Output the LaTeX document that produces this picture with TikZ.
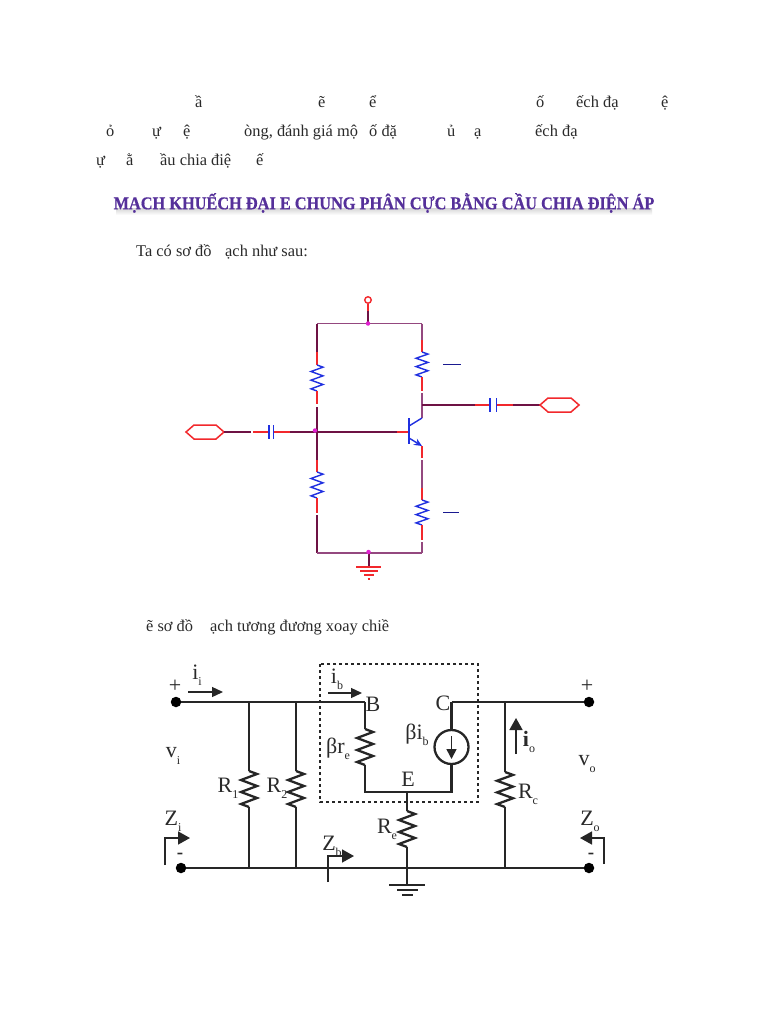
\documentclass[tikz,border=0pt]{standalone}
\usepackage{fontspec}
\setmainfont{Liberation Serif}
\newfontfamily\titlefont[FakeBold=0.6]{Liberation Serif Bold}
\usetikzlibrary{arrows.meta,shapes.geometric}
\definecolor{maroon}{HTML}{6E1244}
\definecolor{plum}{HTML}{94487F}
\definecolor{wred}{HTML}{F2282C}
\definecolor{wblue}{HTML}{2030E0}
\definecolor{navyd}{HTML}{1A1A90}
\definecolor{titlec}{HTML}{55309A}
\definecolor{mag}{HTML}{E020D0}
\definecolor{ink}{HTML}{2A2A2A}
\newcommand\sbs[1]{\raisebox{-0.28em}{\fontsize{12}{12}\selectfont #1}}
\tikzset{
 x=1pt,y=-1pt,
 body/.style={anchor=base west,inner sep=0pt,text=ink,font=\fontsize{16.4}{18}\selectfont},
 lab/.style={inner sep=0pt,text=ink,font=\fontsize{22}{24}\selectfont},
 dk/.style={draw=maroon,line width=2pt},
 pl/.style={draw=plum,line width=1.6pt},
 rd/.style={draw=wred,line width=1.5pt},
 bl/.style={draw=wblue,line width=1.4pt},
 wire/.style={draw=black!85,line width=1.6pt},
 thickwire/.style={draw=black!85,line width=2.3pt},
 zz/.style={draw=black!85,line width=2.3pt,line join=miter},
 dot/.style={circle,fill=black,inner sep=0pt,minimum size=10.5pt},
 mdot/.style={circle,fill=mag,inner sep=0pt,minimum size=4.5pt},
 arr/.style={draw=black!85,line width=1.3pt,-{Triangle[length=11pt,width=10pt]}},
 arrb/.style={draw=black!85,line width=1.6pt,-{Triangle[length=12pt,width=13pt]}},
}
% vertical zigzag: style, x, y-top, y-bottom, half amplitude
\newcommand\vres[5]{%
 \pgfmathsetmacro\ya{#3}\pgfmathsetmacro\yb{#4}\pgfmathsetmacro\st{(\yb-\ya)/6}
 \draw[#1] (#2,\ya) -- (#2+#5,\ya+0.5*\st) -- (#2-#5,\ya+1.5*\st) -- (#2+#5,\ya+2.5*\st) -- (#2-#5,\ya+3.5*\st) -- (#2+#5,\ya+4.5*\st) -- (#2-#5,\ya+5.5*\st) -- (#2,\yb);}
\begin{document}
\begin{tikzpicture}
\useasboundingbox[fill=white] (0,0) rectangle (768,1024);
% ---- text
\node[body] (t1) at (195,108) {ầ};
\node[body] (t2) at (318,108) {ẽ};
\node[body] (t3) at (369,108) {ể};
\node[body] (t4) at (536,108) {ố};
\node[body] (t5) at (576,108) {ếch đạ};
\node[body] (t6) at (661,108) {ệ};
\node[body] (t7) at (106,137) {ỏ};
\node[body] (t8) at (152,137) {ự};
\node[body] (t9) at (183,137) {ệ};
\node[body] (t10) at (244,137) {òng, đánh giá mộ};
\node[body] (t11) at (369,137) {ố đặ};
\node[body] (t12) at (447,137) {ủ};
\node[body] (t13) at (474,137) {ạ};
\node[body] (t14) at (535,137) {ếch đạ};
\node[body] (t15) at (96,166) {ự};
\node[body] (t16) at (126,166) {ằ};
\node[body] (t17) at (160,166) {ầu chia điệ};
\node[body] (t18) at (256,166) {ế};
\fill[top color=black!14,bottom color=white] (116,209) rectangle (652,215);
\node[inner sep=0pt,text=titlec,font=\fontsize{18}{20}\selectfont\titlefont] (title) at (384,203) {\scalebox{0.906}[1]{MẠCH KHUẾCH ĐẠI E CHUNG PHÂN CỰC BẰNG CẦU CHIA ĐIỆN ÁP}};
\node[body] (t19) at (136,256) {Ta có sơ đồ};
\node[body] (t20) at (225,256) {ạch như sau:};
\node[body] (t21) at (146,631) {ẽ sơ đồ};
\node[body] (t22) at (210,631) {ạch tương đương xoay chiề};
% ---- schematic 1
\node[circle,draw=wred,line width=1.4pt,inner sep=0pt,minimum size=6.5pt] (vcc) at (368,300) {};
\coordinate (topm) at (368,323.5);
\coordinate (tl) at (317,323.5);
\coordinate (tr) at (422,323.5);
\coordinate (bl) at (317,553);
\coordinate (br) at (422,553);
\coordinate (botm) at (368.5,553);
\coordinate (nc) at (422,405);
\draw[rd] (vcc) -- (368,311);
\draw[dk] (368,311) -- (topm);
\draw[pl] (tl) -- (tr);
\draw[dk] (tl) -- (317,352);
\draw[rd] (317,352) -- (317,365);
\vres{bl}{317}{365}{391}{6}
\draw[rd] (317,391) -- (317,404);
\draw[dk] (317,407) -- (317,460);
\draw[rd] (317,460) -- (317,472);
\vres{bl}{317}{472}{498}{6}
\draw[rd] (317,498) -- (317,513);
\draw[dk] (317,515) -- (bl);
\draw[pl] (bl) -- (br);
\draw[pl] (tr) -- (422,340);
\draw[rd] (422,340) -- (422,352);
\vres{bl}{422}{352}{377}{6}
\draw[rd] (422,377) -- (422,391);
\draw[pl] (422,393) -- (nc);
\draw[pl] (nc) -- (422,418);
\draw[dk] (nc) -- (475,405);
\draw[rd] (475,405) -- (490,405);
\draw[bl] (490,398) -- (490,412);
\draw[bl] (496.5,398) -- (496.5,412);
\draw[rd] (496.5,405) -- (513,405);
\draw[dk] (513,405) -- (540,405);
\draw[rd] (540,405) -- (548,398) -- (571,398) -- (579,405) -- (571,412) -- (548,412) -- cycle;
\draw[rd] (186,432) -- (194,425) -- (216,425) -- (224,432) -- (216,439) -- (194,439) -- cycle;
\draw[dk] (224,432) -- (251,432);
\draw[rd] (253,432) -- (269,432);
\draw[bl] (269,425) -- (269,439);
\draw[bl] (273.5,425) -- (273.5,439);
\draw[rd] (273.5,432) -- (290,432);
\draw[dk] (290,432) -- (397,432);
\draw[rd] (397,432) -- (409,432);
\draw[bl] (409,418) -- (409,444);
\draw[bl] (409,426) -- (422,418);
\draw[bl,-{Stealth[length=8pt,width=7pt]}] (409,438) -- (422,446);
\draw[rd] (422,446) -- (422,458);
\draw[pl] (422,460) -- (422,488);
\draw[rd] (422,488) -- (422,500);
\vres{bl}{422}{500}{525}{6}
\draw[rd] (422,525) -- (422,540);
\draw[pl] (422,542) -- (br);
\draw[dk] (botm) -- (368.5,567);
\draw[rd] (356,567) -- (381,567);
\draw[rd] (360,571) -- (378,571);
\draw[rd] (364,575) -- (374,575);
\draw[rd] (367.5,579) -- (369.5,579);
\draw[navyd,line width=1pt] (443,364) -- (461,364);
\draw[navyd,line width=1pt] (443,512) -- (459,512);
\node[mdot] (m1) at (topm) {};
\node[mdot] (m2) at (315,430.5) {};
\node[mdot] (m3) at (368.5,552) {};
% ---- schematic 2
\node[dot] (d1) at (176,702) {};
\node[dot] (d2) at (181,868) {};
\node[dot] (d3) at (589,702) {};
\node[dot] (d4) at (589,868) {};
\coordinate (B) at (365,702);
\coordinate (C) at (451.5,702);
\coordinate (EL) at (365,792);
\coordinate (ER) at (451.5,792);
\coordinate (E) at (407,792);
\draw[wire] (d1) -- (B);
\draw[wire] (C) -- (d3);
\draw[wire] (d2) -- (d4);
% R1, R2, Rc, Re
\draw[thickwire] (249,702) -- (249,771);
\vres{zz}{249}{771}{807}{8}
\draw[thickwire] (249,807) -- (249,868);
\draw[thickwire] (296,702) -- (296,771);
\vres{zz}{296}{771}{807}{8}
\draw[thickwire] (296,807) -- (296,868);
\draw[thickwire] (505,702) -- (505,772);
\vres{zz}{505}{772}{807}{8}
\draw[thickwire] (505,807) -- (505,868);
\draw[thickwire] (E) -- (407,811);
\vres{zz}{407}{811}{847}{8}
\draw[thickwire] (407,847) -- (407,885);
\draw[thickwire] (389,885) -- (425,885);
\draw[thickwire] (397,890) -- (418,890);
\draw[thickwire] (402,895) -- (413,895);
% beta re branch
\draw[thickwire] (B) -- (365,729);
\vres{zz}{365}{729}{765}{8}
\draw[thickwire,line join=miter] (365,765) -- (EL) -- (ER) -- (451.5,764);
\node[circle,draw=black!85,line width=2.3pt,minimum size=34pt,inner sep=0pt] (cs) at (451.5,747) {};
\draw[thickwire] (C) -- (cs);
\draw[arrb,-{Triangle[length=10pt,width=10pt]}] (451.5,736) -- (451.5,759);
% dashed box
\draw[draw=black!85,line width=2.4pt,dash pattern=on 3.2pt off 2.8pt] (320,664) rectangle (478,802);
% arrows
\draw[arr] (188,692) -- (223,692);
\draw[arr] (328,693) -- (362,693);
\draw[arrb] (516,754) -- (516,718);
\draw[arrb,line join=miter] (165,865) -- (165,838) -- (190,838);
\draw[arrb,line join=miter] (328,882) -- (328,856) -- (354,856);
\draw[arrb,line join=miter] (604,864) -- (604,838) -- (580,838);
% labels
\node[lab] (p1) at (175,686) {+};
\node[lab] (p2) at (587,686) {+};
\node[lab,font=\fontsize{19}{20}\selectfont\bfseries] (m1l) at (180,856) {-};
\node[lab,font=\fontsize{19}{20}\selectfont\bfseries] (m2l) at (591,856) {-};
\node[lab] (ii) at (197,675) {i\sbs{i}};
\node[lab] (ib) at (337,679) {i\sbs{b}};
\node[lab] (bB) at (373,704) {B};
\node[lab] (bC) at (443,703) {C};
\node[lab] (bE) at (408,779) {E};
\node[lab] (bre) at (338,749) {βr\sbs{e}};
\node[lab] (bib) at (417,735) {βi\sbs{b}};
\node[lab] (vi) at (173,756) {v\sbs{i}};
\node[lab] (vo) at (587,764) {v\sbs{o}};
\node[lab] (r1) at (228,788) {R\sbs{1}};
\node[lab] (r2) at (277,788) {R\sbs{2}};
\node[lab] (re) at (387,829) {R\sbs{e}};
\node[lab] (rc) at (528,794) {R\sbs{c}};
\node[lab] (io) at (529,742) {\textbf{i}\sbs{o}};
\node[lab] (zi) at (173,821) {Z\sbs{i}};
\node[lab] (zb) at (332,846) {Z\sbs{b}};
\node[lab] (zo) at (590,821) {Z\sbs{o}};
\end{tikzpicture}
\end{document}
